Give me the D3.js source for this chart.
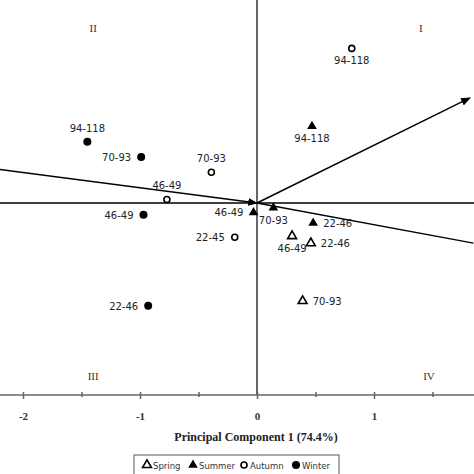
<!DOCTYPE html><html><head><meta charset="utf-8"><script src="https://cdn.jsdelivr.net/npm/d3@7"></script>
<style>body{margin:0;background:#fff}</style></head><body><svg id="c" width="474" height="474"></svg>
<script>
const seasons=["Spring","Summer","Autumn","Winter"];
const spring=[{l:"46-49",x:0.30,y:-0.28,p:"b"},{l:"22-46",x:0.46,y:-0.34,p:"r"},{l:"70-93",x:0.39,y:-0.83,p:"r"}];
const summer=[{l:"94-118",x:0.47,y:0.65,p:"b"},{l:"46-49",x:-0.03,y:-0.08,p:"l"},{l:"70-93",x:0.14,y:-0.04,p:"b"},{l:"22-46",x:0.48,y:-0.17,p:"r"}];
const autumn=[{l:"94-118",x:0.81,y:1.31,p:"b"},{l:"70-93",x:-0.39,y:0.26,p:"t"},{l:"46-49",x:-0.77,y:0.03,p:"t"},{l:"22-45",x:-0.19,y:-0.29,p:"l"}];
const winter=[{l:"94-118",x:-1.45,y:0.52,p:"t"},{l:"70-93",x:-0.99,y:0.39,p:"l"},{l:"46-49",x:-0.97,y:-0.10,p:"l"},{l:"22-46",x:-0.93,y:-0.87,p:"l"}];
const vectors=[{x1:-2.2,y1:0.285,x2:0,y2:0,a:true},{x1:0,y1:0,x2:1.82,y2:0.89,a:true},{x1:0,y1:0,x2:1.85,y2:-0.34,a:false}];
const xTicks=[-2,-1,0,1];
const quads=[{t:"II",x:-1.4,y:1.45},{t:"I",x:1.4,y:1.45},{t:"III",x:-1.4,y:-1.5},{t:"IV",x:1.47,y:-1.5}];
const svg=d3.select("#c");
const x=d3.scaleLinear().domain([-2,1]).range([23,374]);
const y=d3.scaleLinear().domain([0,1]).range([203,85]);
const yAx=395;
svg.append("defs").append("marker").attr("id","ah").attr("viewBox","0 0 10 10").attr("refX",9).attr("refY",5).attr("markerWidth",7).attr("markerHeight",7).attr("orient","auto").append("path").attr("d","M0,1L10,5L0,9z").attr("fill","#000");
svg.append("line").attr("x1",0).attr("x2",474).attr("y1",y(0)).attr("y2",y(0)).attr("stroke","#000").attr("stroke-width",1.5);
svg.append("line").attr("x1",x(0)).attr("x2",x(0)).attr("y1",0).attr("y2",yAx).attr("stroke","#000").attr("stroke-width",1.2);
const ax=d3.axisBottom(x).tickValues(d3.range(-2,2.01,0.5)).tickSize(6).tickFormat(d=>xTicks.includes(d)?d3.format("d")(d).replace("−","-"):"");
const g=svg.append("g").attr("transform",`translate(0,${yAx-3})`).call(ax);
g.select(".domain").remove();
g.selectAll(".tick line").attr("stroke","#666").attr("stroke-width",1.5).attr("y2",d=>Number.isInteger(d)?7:5);
g.selectAll(".tick text").attr("y",20).attr("font-family","Liberation Serif").attr("font-size",11).attr("font-weight","bold").attr("fill","#333");
svg.append("line").attr("x1",0).attr("x2",474).attr("y1",yAx).attr("y2",yAx).attr("stroke","#666").attr("stroke-width",1.5);
svg.append("text").attr("x",256).attr("y",441).attr("text-anchor","middle").attr("font-family","Liberation Serif").attr("font-weight","bold").attr("font-size",12).attr("fill","#222").text("Principal Component 1 (74.4%)");
vectors.forEach(v=>svg.append("line").attr("x1",x(v.x1)).attr("y1",y(v.y1)).attr("x2",x(v.x2)).attr("y2",y(v.y2)).attr("stroke","#000").attr("stroke-width",1.4).attr("marker-end",v.a?"url(#ah)":null));
quads.forEach(q=>svg.append("text").attr("x",x(q.x)).attr("y",y(q.y)).attr("text-anchor","middle").attr("font-family","Liberation Serif").attr("font-size",11).attr("fill","#333").text(q.t));
function sym(sel,type){
  if(type==="Spring") sel.append("path").attr("d",d3.symbol(d3.symbolTriangle,34)()).attr("fill","none").attr("stroke","#000").attr("stroke-width",1.6);
  else if(type==="Summer") sel.append("path").attr("d",d3.symbol(d3.symbolTriangle,40)()).attr("fill","#000");
  else if(type==="Autumn") sel.append("circle").attr("r",3).attr("fill","#fff").attr("stroke","#000").attr("stroke-width",1.6);
  else sel.append("circle").attr("r",4).attr("fill","#000");
}
const off={t:[0,-10,"middle"],b:[0,16,"middle"],l:[-10,4,"end"],r:[10,4,"start"]};
[[spring,"Spring"],[summer,"Summer"],[autumn,"Autumn"],[winter,"Winter"]].forEach(([arr,t])=>{
  arr.forEach(d=>{
    const gg=svg.append("g").attr("transform",`translate(${x(d.x)},${y(d.y)})`);sym(gg,t);
    const o=off[d.p];
    gg.append("text").attr("x",o[0]).attr("y",o[1]).attr("text-anchor",o[2]).attr("font-family","DejaVu Sans").attr("font-size",10).attr("fill","#222").text(d.l);
  });
});
svg.append("rect").attr("x",134).attr("y",455).attr("width",205).attr("height",20).attr("fill","#fff").attr("stroke","#555");
const lx=[147,193,244,296];
seasons.forEach((s,i)=>{const gg=svg.append("g").attr("transform",`translate(${lx[i]},465)`);sym(gg,s);
gg.append("text").attr("x",6).attr("y",4).attr("font-family","DejaVu Sans").attr("font-size",8.5).attr("fill","#333").text(s);});
</script></body></html>
